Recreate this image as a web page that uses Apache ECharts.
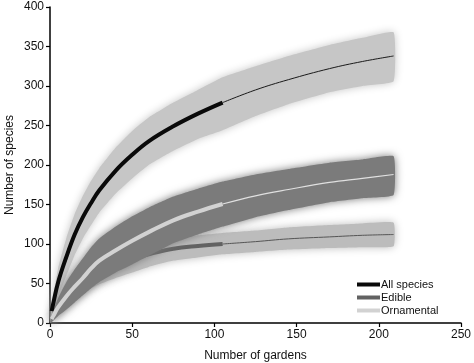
<!DOCTYPE html>
<html><head><meta charset="utf-8">
<script src="https://cdn.jsdelivr.net/npm/echarts@6/dist/echarts.min.js"></script>
<style>html,body{margin:0;padding:0;background:#fff}#c{width:474px;height:363px}</style>
</head><body><div id="c"></div>
<script>
const gardens   = [1, 2, 5, 10, 15, 20, 25, 30, 40, 50, 60, 75, 90, 105, 125, 145, 170, 190, 209];
const allSp     = [15, 25, 52, 84, 112, 134, 152, 168, 193, 213, 230, 249, 265, 279, 295, 308, 322, 331, 338];
const allHi     = [22, 36, 70, 108, 138, 161, 180, 196, 222, 243, 260, 279, 295, 311, 325, 338, 352, 361, 368];
const allLo     = [8, 14, 34, 60, 86, 107, 124, 140, 164, 183, 200, 218, 233, 244, 262, 277, 292, 300, 306];
const ornamental= [5, 9, 20, 34, 46, 57, 69, 79, 92, 104, 115, 130, 141, 150.6, 161, 169, 178, 183, 188];
const ornHi     = [9, 16, 32, 52, 68, 82, 96, 107, 122, 135, 146, 160, 170, 179, 188, 195, 203, 207, 211];
const ornLo     = [1, 3, 9, 17, 26, 35, 44, 52, 64, 74, 85, 101, 112, 122, 134, 143, 153, 158, 162];
const edible    = [5, 9, 20, 34, 45, 53, 60, 66, 74, 81, 87, 94, 97.5, 100, 103, 106.5, 109, 111, 112];
const edHi      = [8, 15, 30, 48, 60, 69, 76, 82, 90, 97, 102, 108, 111, 114, 117, 121, 124, 126, 127];
const edLo      = [2, 4, 11, 21, 30, 37, 44, 49, 57, 64, 71, 79, 83, 87, 90, 93, 95, 96, 97];
const observedEnd = 13; // index where the observed (thick) part ends
const xTicks = [0, 50, 100, 150, 200, 250];
const yTicks = [0, 50, 100, 150, 200, 250, 300, 350, 400];

const pairs = (ys, a, b) => gardens.slice(a, b).map((x, i) => [x, ys[a + i]]);
function band(name, lo, hi, color, z) {
  return {
    type: 'custom', name: name, silent: true, z: z,
    data: [[0, 0]],
    renderItem: (params, api) => {
      const pts = [api.coord([0, 0])];
      gardens.forEach((x, i) => pts.push(api.coord([x, hi[i]])));
      for (let i = gardens.length - 1; i >= 0; i--) pts.push(api.coord([gardens[i], lo[i]]));
      return { type: 'polygon', shape: { points: pts, smooth: 0.12 },
        style: { fill: color, shadowBlur: 8, shadowColor: color } };
    }
  };
}
function line(name, ys, color, w, a, b, z) {
  return { type: 'line', name: name, data: pairs(ys, a, b), smooth: 0.4,
    showSymbol: false, symbol: 'none', z: z,
    lineStyle: { color: color, width: w }, itemStyle: { color: color } };
}
const font = 'Liberation Sans, Arial, sans-serif';
const chart = echarts.init(document.getElementById('c'));
chart.setOption({
  animation: false,
  grid: { left: 50, right: 13, top: 7, bottom: 40, outerBoundsMode: 'none', containLabel: false },
  xAxis: {
    type: 'value', min: xTicks[0], max: xTicks[xTicks.length - 1], interval: 50,
    name: 'Number of gardens', nameLocation: 'middle', nameGap: 27,
    nameTextStyle: { fontFamily: font, fontSize: 12, color: '#111' },
    axisLine: { lineStyle: { color: '#000', width: 1.5 } },
    axisTick: { lineStyle: { color: '#000', width: 1.2 }, length: 4 },
    axisLabel: { fontFamily: font, fontSize: 12, color: '#111', margin: 6 },
    splitLine: { show: false }
  },
  yAxis: {
    type: 'value', min: yTicks[0], max: yTicks[yTicks.length - 1], interval: 50,
    name: 'Number of species', nameLocation: 'middle', nameGap: 34, nameMoveOverlap: false,
    nameTextStyle: { fontFamily: font, fontSize: 12, color: '#111' },
    axisLine: { show: true, lineStyle: { color: '#000', width: 1.5 } },
    axisTick: { show: true, lineStyle: { color: '#000', width: 1.2 }, length: 4 },
    axisLabel: { fontFamily: font, fontSize: 12, color: '#111', margin: 6 },
    splitLine: { show: false }
  },
  legend: {
    orient: 'vertical', left: 357, top: 279, itemGap: 2, itemWidth: 23, itemHeight: 4,
    icon: 'rect', padding: 0,
    textStyle: { fontFamily: font, fontSize: 11, color: '#111', padding: [0, 0, 0, -4] },
    data: ['All species', 'Edible', 'Ornamental']
  },
  series: [
    band('allBand', allLo, allHi, '#c6c6c6', 1),
    band('edBand', edLo, edHi, '#bcbcbc', 1),
    line('Edible', edible, '#626262', 4, 0, observedEnd + 1, 2),
    line('edExt', edible, '#555555', 1, observedEnd, gardens.length, 2),
    band('ornBand', ornLo, ornHi, '#7b7b7b', 3),
    line('All species', allSp, '#0a0a0a', 4, 0, observedEnd + 1, 5),
    line('allExt', allSp, '#1a1a1a', 1, observedEnd, gardens.length, 5),
    line('Ornamental', ornamental, '#d2d2d2', 4, 0, observedEnd + 1, 6),
    line('ornExt', ornamental, '#e0e0e0', 1.2, observedEnd, gardens.length, 6)
  ]
});
</script>
</body></html>
